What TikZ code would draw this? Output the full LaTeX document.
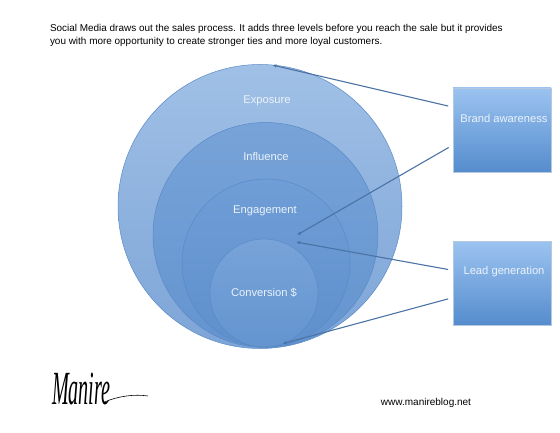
\documentclass[tikz,border=0pt]{standalone}
\usepackage{fontspec}
\usepackage{graphicx}
\setmainfont{Liberation Sans}
\newfontfamily\signfont{Liberation Serif}
\usetikzlibrary{arrows.meta}
\definecolor{cA0C0E6}{RGB}{160,192,230}
\definecolor{c7DA5D7}{RGB}{125,165,215}
\definecolor{c77A3D8}{RGB}{119,163,216}
\definecolor{c6494CF}{RGB}{100,148,207}
\definecolor{c6F9DD6}{RGB}{111,157,214}
\definecolor{c5F90CC}{RGB}{95,144,204}
\definecolor{c5A8AC6}{RGB}{90,138,198}
\definecolor{c9BC3F0}{RGB}{155,195,240}
\definecolor{c558CCD}{RGB}{85,140,205}
\definecolor{c4B73A5}{RGB}{75,115,165}
\definecolor{cEBF2FA}{RGB}{235,242,250}
\definecolor{cB4C8E0}{RGB}{180,200,224}

\begin{document}
\begin{tikzpicture}[y=1pt,x=1pt,yscale=-1, inner sep=0pt, outer sep=0pt,
    ring/.style={circle, draw=c5A8AC6, line width=0.5pt},
    ringtext/.style={text=cEBF2FA, font=\fontsize{11.2}{13}\selectfont},
    infobox/.style={rectangle, minimum width=98pt, minimum height=84pt,
      top color=c9BC3F0, bottom color=c558CCD, draw=cB4C8E0, line width=0.5pt},
    pointer/.style={draw=c4B73A5, line width=1.1pt,
      -{Latex[length=4pt,width=3.5pt]}, shorten <=5pt}]
  \useasboundingbox (0,0) rectangle (560,433);

  % heading
  \node[anchor=north west, align=left, font=\fontsize{9.95}{13}\selectfont] (head) at (50,24)
    {Social Media draws out the sales process. It adds three levels before you reach the sale but it provides\\
     you with more opportunity to create stronger ties and more loyal customers.};

  % nested circles
  \node[ring, minimum size=284pt, top color=cA0C0E6, bottom color=c7DA5D7] (expo) at (260,206.5) {};
  \node[ring, minimum size=225pt, top color=c77A3D8, bottom color=c6494CF] (infl) at (265.5,235) {};
  \node[ring, minimum size=168pt, top color=c6F9DD6, bottom color=c5F90CC] (enga) at (266,263) {};
  \node[ring, minimum size=108pt, top color=c77A3D8, bottom color=c6494CF] (conv) at (264,293) {};

  \node[ringtext] (expo text) at (267,101) {Exposure};
  \node[ringtext] (infl text) at (266,156) {Influence};
  \node[ringtext] (enga text) at (265,211) {Engagement};
  \node[ringtext] (conv text) at (264,293) {Conversion \$};

  % boxes
  \node[infobox] (brand) at (502,130) {};
  \node[ringtext] (brand text) at (504,118) {Brand awareness};
  \node[infobox] (lead) at (502,283.5) {};
  \node[ringtext] (lead text) at (504,272) {Lead generation};

  \coordinate (enga tip) at (297,235);
  \coordinate (lead tip) at (296,242);

  \draw[pointer] (brand.155) -- (expo.85);
  \draw[pointer] (brand.197) -- (enga tip);
  \draw[pointer] (lead.165) -- (lead tip);
  \draw[pointer] (lead.196) -- (conv.-70);

  % footer
  \node[anchor=south west] (sign) at (52,405)
    {\scalebox{0.72}[1.7]{\fontsize{28}{28}\selectfont\signfont\itshape Manire}};
  \draw[line width=0.6pt] (sign.south east) ++(-6,-3) .. controls (118,396) and (135,394) .. (148,396);
  \node[font=\fontsize{10}{12}\selectfont] (site) at (426,403) {www.manireblog.net};
\end{tikzpicture}
\end{document}
